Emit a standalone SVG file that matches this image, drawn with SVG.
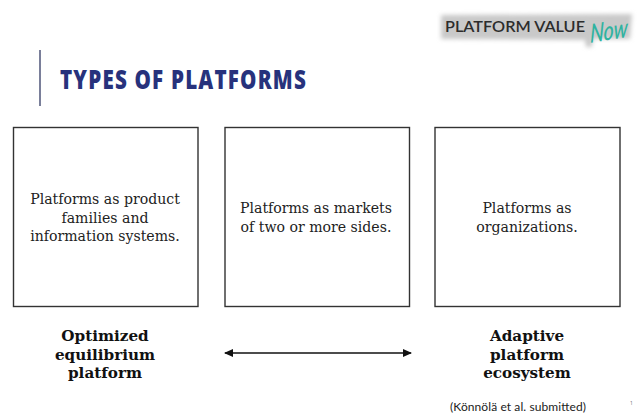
<svg xmlns="http://www.w3.org/2000/svg" width="638" height="418" viewBox="0 0 638 418">
<style>
.box{fill:#fff;stroke:#333;stroke-width:1.4}
.t{font-family:"DejaVu Serif",serif;font-size:14.1px;fill:#222;text-anchor:middle}
.b{font-family:"DejaVu Serif",serif;font-size:15.2px;font-weight:bold;fill:#111;text-anchor:middle}
</style>
<defs>
<filter id="bl" x="-10%" y="-30%" width="120%" height="160%"><feGaussianBlur stdDeviation="2"/></filter>
<marker id="ah" markerWidth="9" markerHeight="8" refX="8" refY="4" orient="auto-start-reverse" markerUnits="userSpaceOnUse"><path d="M0 0L9 4L0 8Z" fill="#111"/></marker>
</defs>
<rect width="638" height="418" fill="#fff"/>
<g id="logo">
<path d="M441 15L632 14L630 39L593 39L592 47L586 47L585 40L441 39Z" fill="#c9c9c9" filter="url(#bl)"/>
<text x="445" y="32" font-family="Lato,sans-serif" font-size="16" font-weight="600" fill="#2c2c2c" textLength="140" lengthAdjust="spacingAndGlyphs">PLATFORM VALUE</text>
<text transform="translate(590 43) rotate(-9) skewX(-10)" font-family="Lato,sans-serif" font-style="italic" font-size="26" font-weight="500" fill="#2fb3a0" textLength="38" lengthAdjust="spacingAndGlyphs">Now</text>
</g>
<g id="title">
<rect x="39" y="50" width="2" height="56" fill="#7a7f9a"/>
<text x="60" y="89" font-family="'Open Sans',sans-serif" font-size="26" font-weight="800" fill="#27327c" letter-spacing="1.5" textLength="247" lengthAdjust="spacingAndGlyphs">TYPES OF PLATFORMS</text>
</g>
<g id="node1">
<rect class="box" x="13.5" y="127.5" width="184.500" height="179"/>
<text class="t" x="105" y="204">Platforms as product</text>
<text class="t" x="105" y="223">families and</text>
<text class="t" x="105" y="241">information systems.</text>
</g>
<g id="node2">
<rect class="box" x="225" y="127.5" width="184.500" height="179"/>
<text class="t" x="316" y="213">Platforms as markets</text>
<text class="t" x="316" y="232">of two or more sides.</text>
</g>
<g id="node3">
<rect class="box" x="435" y="127.5" width="185" height="179"/>
<text class="t" x="527" y="213">Platforms as</text>
<text class="t" x="527" y="232">organizations.</text>
</g>
<g id="connectors">
<line x1="225" y1="353" x2="411" y2="353" stroke="#111" stroke-width="1.4" marker-start="url(#ah)" marker-end="url(#ah)"/>
</g>
<g id="label1">
<text class="b" x="105" y="341">Optimized</text>
<text class="b" x="105" y="360">equilibrium</text>
<text class="b" x="105" y="378">platform</text>
</g>
<g id="label3">
<text class="b" x="527" y="341">Adaptive</text>
<text class="b" x="527" y="360">platform</text>
<text class="b" x="527" y="378">ecosystem</text>
</g>
<text x="518" y="411" font-family="Lato,sans-serif" font-size="12" fill="#222" text-anchor="middle" textLength="136">(Könnölä et al. submitted)</text>
<text x="630" y="405" font-family="'Noto Sans',sans-serif" font-size="5" fill="#777">1</text>
</svg>
